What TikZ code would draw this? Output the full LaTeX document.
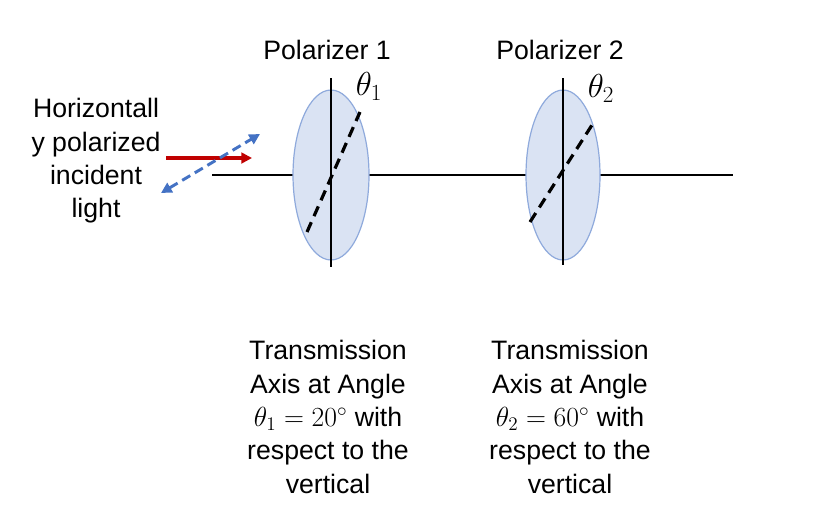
\documentclass[tikz,border=0pt]{standalone}
\usepackage{fontspec}
\setmainfont{Liberation Sans}
\usetikzlibrary{arrows.meta}
\definecolor{pfill}{HTML}{DAE3F3}
\definecolor{pdraw}{HTML}{8FAADC}
\definecolor{ablue}{HTML}{4472C4}
\definecolor{ared}{HTML}{C00000}
\begin{document}
\begin{tikzpicture}[x=0.75pt,y=-0.75pt,
  txt/.style={font=\fontsize{20}{25}\selectfont,align=center,inner sep=0},
  pol/.style={draw=pdraw,fill=pfill,line width=0.9pt},
  ax/.style={line width=1pt},
  tax/.style={line width=2.4pt,dash pattern=on 8pt off 5pt}]
\useasboundingbox (0,0) rectangle (820,504);
\fill[white] (0,0) rectangle (820,504);
\coordinate (L) at (212,175); \coordinate (R) at (733,175);
\draw[ax] (L) -- (R);
\filldraw[pol] (331,175) ellipse [x radius=38, y radius=85];
\filldraw[pol] (563,175) ellipse [x radius=37, y radius=85];
\draw[ax] (331,78) -- (331,267);
\draw[ax] (563,78) -- (563,265);
\coordinate (a1) at (307,232); \coordinate (b1) at (360,112);
\coordinate (a2) at (530,222); \coordinate (b2) at (592,125);
\draw[tax] (a1) -- (b1);
\draw[tax] (a2) -- (b2);
\coordinate (r1) at (166,158); \coordinate (r2) at (252,158);
\draw[ared,line width=2.4pt,-{Triangle[length=8pt,width=8pt]}] (r1) -- (r2);
\coordinate (d1) at (161,193); \coordinate (d2) at (260,134);
\draw[ablue,line width=2.2pt,dash pattern=on 7pt off 4pt,{Triangle[length=8pt,width=8pt]}-{Triangle[length=8pt,width=8pt]}] (d1) -- (d2);
\node[txt] (h) at (96,161) {Horizontall\\y polarized\\incident\\light};
\node[txt] (p1) at (327,50) {Polarizer 1};
\node[txt] (p2) at (560,50) {Polarizer 2};
\node[txt,font=\fontsize{24}{25}\selectfont] (t1) at (369,86) {$\theta_1$};
\node[txt,font=\fontsize{24}{25}\selectfont] (t2) at (601,88) {$\theta_2$};
\node[txt] (d1t) at (328,417) {Transmission\\Axis at Angle\\$\theta_1=20^\circ$ with\\respect to the\\vertical};
\node[txt] (d2t) at (570,417) {Transmission\\Axis at Angle\\$\theta_2=60^\circ$ with\\respect to the\\vertical};
\end{tikzpicture}
\end{document}
